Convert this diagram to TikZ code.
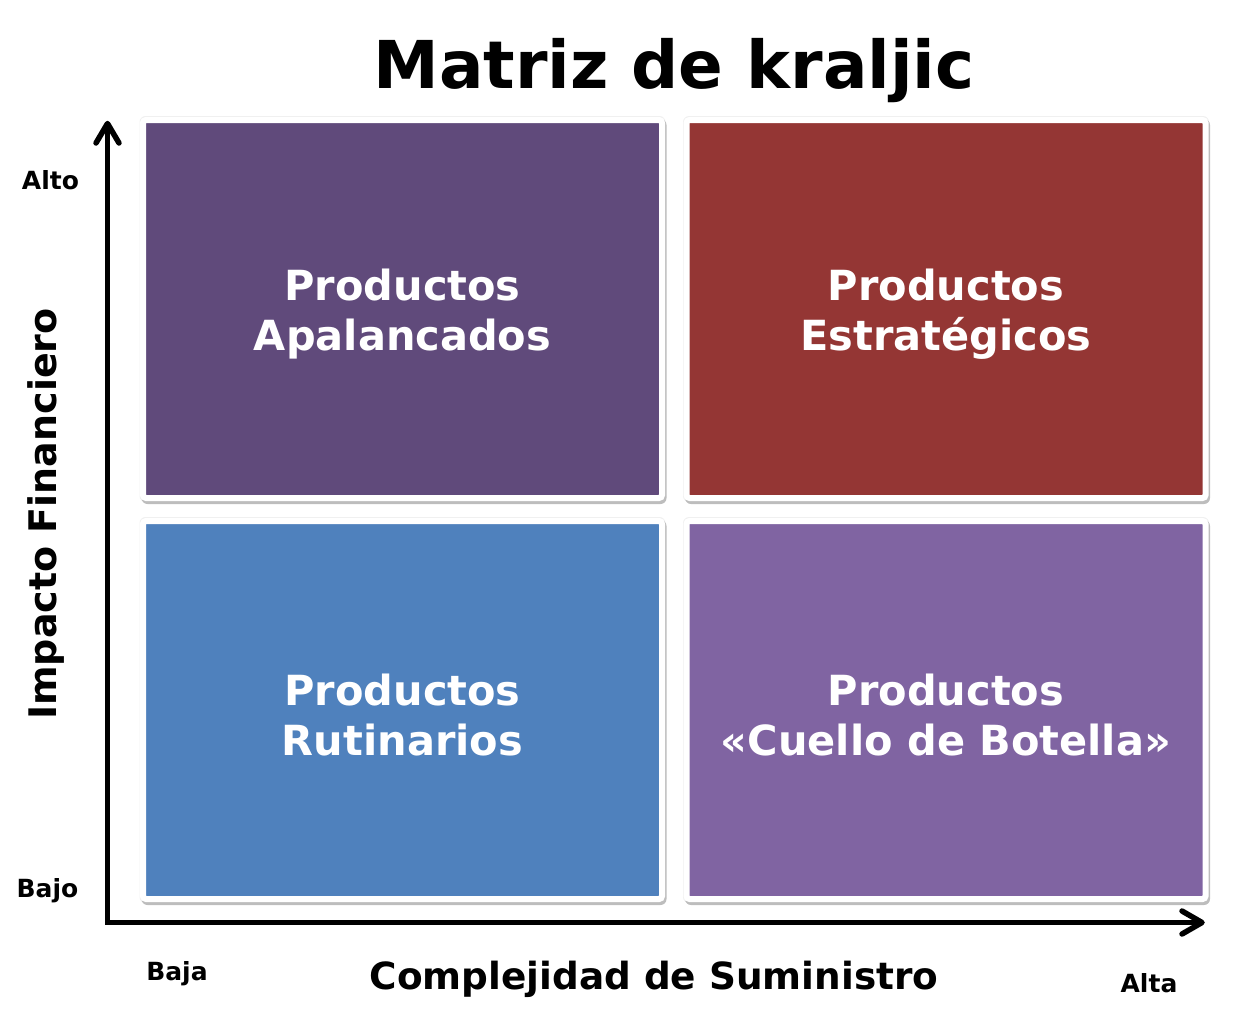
\documentclass[tikz,border=0pt]{standalone}
\usepackage{fontspec}
\setmainfont{DejaVu Sans}
\usetikzlibrary{calc}
\definecolor{qpurple}{HTML}{604A7B}
\definecolor{qred}{HTML}{943634}
\definecolor{qblue}{HTML}{4F81BD}
\definecolor{qlav}{HTML}{8064A2}
\definecolor{shadowc}{HTML}{BDBDBD}
\begin{document}
\begin{tikzpicture}[x=1pt,y=-1pt,
  quad/.style={draw=white,line width=6pt,rounded corners=3pt,minimum width=519pt,minimum height=378pt,inner sep=0pt},
  quadtext/.style={align=center,text=white,inner sep=0pt,yshift=-5pt,font=\bfseries\fontsize{41.5}{50}\selectfont},
  qshadow/.style={fill=shadowc,rounded corners=6pt},
  qhalo/.style={fill=gray!12,rounded corners=6pt},
  ticklbl/.style={font=\bfseries\fontsize{25}{30}\selectfont,anchor=base},
  axisline/.style={line width=5pt,line join=miter},
  chevron/.style={line width=5.5pt,line cap=round,line join=round}
]
\useasboundingbox (0,0) rectangle (1233,1021);
% title
\node[font=\bfseries\fontsize{66}{79}\selectfont,anchor=base] (title) at (674,88) {Matriz de kraljic};
% shadows
\foreach \cx/\cy in {402.5/309,946/309,402.5/710,946/710}{
  \fill[qhalo] (\cx-263,\cy-193) rectangle (\cx+263,\cy+193);
  \fill[qshadow] (\cx-261,\cy-190) rectangle (\cx+264,\cy+195);
}
% quadrants
\node[quad,fill=qpurple] (q1) at (402.5,309) {};
\node[quad,fill=qred] (q2) at (946,309) {};
\node[quad,fill=qblue] (q3) at (402.5,710) {};
\node[quad,fill=qlav] (q4) at (946,710) {};
\node[quadtext] (q1t) at (q1.center) {Productos\\Apalancados};
\node[quadtext] (q2t) at (q2.center) {Productos\\Estratégicos};
\node[quadtext] (q3t) at (q3.center) {Productos\\Rutinarios};
\node[quadtext] (q4t) at (q4.center) {Productos\\«Cuello de Botella»};
% axes
\coordinate (ytop) at (107.5,123.5);
\coordinate (corner) at (107.5,922.5);
\coordinate (xend) at (1202,922.5);
\draw[axisline] (ytop) -- (corner) -- (xend);
\draw[chevron] ($(ytop)+(-11.5,19.5)$) -- (ytop) -- ($(ytop)+(11.5,19.5)$);
\draw[chevron] ($(xend)+(-20,-11.5)$) -- (xend) -- ($(xend)+(-20,11.5)$);
% labels
\node[font=\bfseries\fontsize{38}{45}\selectfont,anchor=base,rotate=90] (ylab) at (56,514) {Impacto Financiero};
\node[font=\bfseries\fontsize{37.4}{45}\selectfont,anchor=base] (xlab) at (654,989) {Complejidad de Suministro};
\node[ticklbl] (alto) at (50.5,189) {Alto};
\node[ticklbl] (bajo) at (47.5,897) {Bajo};
\node[ticklbl] (baja) at (177,980) {Baja};
\node[ticklbl] (alta) at (1149,992) {Alta};
\end{tikzpicture}
\end{document}
